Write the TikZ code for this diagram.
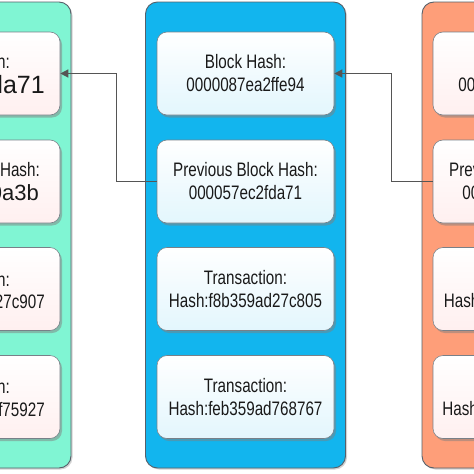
\documentclass[tikz,border=0pt]{standalone}
\usepackage{fontspec}
\setmainfont[FakeStretch=0.78]{Liberation Sans}
\newfontfamily\widefont{Liberation Sans}
\usetikzlibrary{arrows.meta,shadows}
\definecolor{cblue}{HTML}{12B5EE}
\definecolor{cgreen}{HTML}{80F5D3}
\definecolor{corange}{HTML}{FE9E79}
\definecolor{edge}{HTML}{56606A}
\definecolor{arr}{HTML}{555555}
\tikzset{
  blockbox/.style={draw=edge, line width=0.9pt, rounded corners=12pt,
    minimum width=200pt, minimum height=466pt, inner sep=0pt,
    drop shadow={shadow xshift=1.5pt, shadow yshift=-1.5pt, opacity=0.35}},
  fieldbox/.style={draw=edge!80, line width=0.6pt, rounded corners=10pt,
    minimum width=177pt, minimum height=83pt, inner sep=0pt, align=center,
    text=black!90, font=\fontsize{19.5}{23}\selectfont,
    drop shadow={shadow xshift=2pt, shadow yshift=-2.5pt, opacity=0.5}},
  bluefield/.style={fieldbox, top color=white, bottom color=cblue!12},
  warmfield/.style={fieldbox, top color=white, bottom color=red!6},
  txt/.style={inner sep=0pt, text=black!90, font=\fontsize{19.5}{23}\selectfont},
  bigtxt/.style={inner sep=0pt, text=black!90, font=\widefont\fontsize{22}{23}\selectfont},
  link/.style={draw=arr, line width=1.3pt, -{Triangle[length=8pt,width=8pt]}}
}
\begin{document}
\begin{tikzpicture}[x=1pt,y=-1pt]
\useasboundingbox (0,0) rectangle (474,474);
% blocks
\node[blockbox, fill=cgreen] (lb) at (-29,235) {};
\node[blockbox, fill=cblue] (cb) at (245.5,235) {};
\node[blockbox, fill=corange] (rb) at (522,235) {};
% left block fields
\node[warmfield] (l1) at (-28.5,73.5) {};
\node[warmfield] (l2) at (-28.5,181.5) {};
\node[warmfield] (l3) at (-28.5,289) {};
\node[warmfield] (l4) at (-28.5,397) {};
\node[txt, anchor=east] (l1a) at (10,62) {Block Hash:};
\node[bigtxt, anchor=east, font=\widefont\fontsize{25}{25}\selectfont] (l1b) at (45,85) {000057ec2fda71};
\node[txt, anchor=east] (l2a) at (40,170) {Previous Block Hash:};
\node[bigtxt, anchor=east] (l2b) at (39,193) {00000a6c1f0a3b};
\node[txt, anchor=east] (l3a) at (10,280) {Transaction:};
\node[txt, anchor=east] (l3b) at (45,302) {Hash:f8b359ad27c907};
\node[txt, anchor=east] (l4a) at (10,387) {Transaction:};
\node[txt, anchor=east] (l4b) at (45,410) {Hash:feb359adf75927};
% center block fields
\node[bluefield] (c1) at (245.5,73.5) {Block Hash:\\0000087ea2ffe94};
\node[bluefield] (c2) at (245.5,181.5) {Previous Block Hash:\\000057ec2fda71};
\node[bluefield] (c3) at (245.5,289) {Transaction:\\Hash:f8b359ad27c805};
\node[bluefield] (c4) at (245.5,397) {Transaction:\\Hash:feb359ad768767};
% right block fields
\node[warmfield] (r1) at (521.5,73.5) {Block Hash:\\0000091ab3c7e25};
\node[warmfield] (r2) at (521.5,181.5) {Previous Block Hash:\\0000087ea2ffe94};
\node[warmfield] (r3) at (521.5,289) {Transaction:\\Hash:a7c359ad27c811};
\node[warmfield] (r4) at (521.5,397) {Transaction:\\Hash:b2e359ad768790};
% links
\draw[link] (c2.west) -- ++(-40,0) |- (l1.east);
\draw[link] (r2.west) -- ++(-41,0) |- (c1.east);
\end{tikzpicture}
\end{document}
